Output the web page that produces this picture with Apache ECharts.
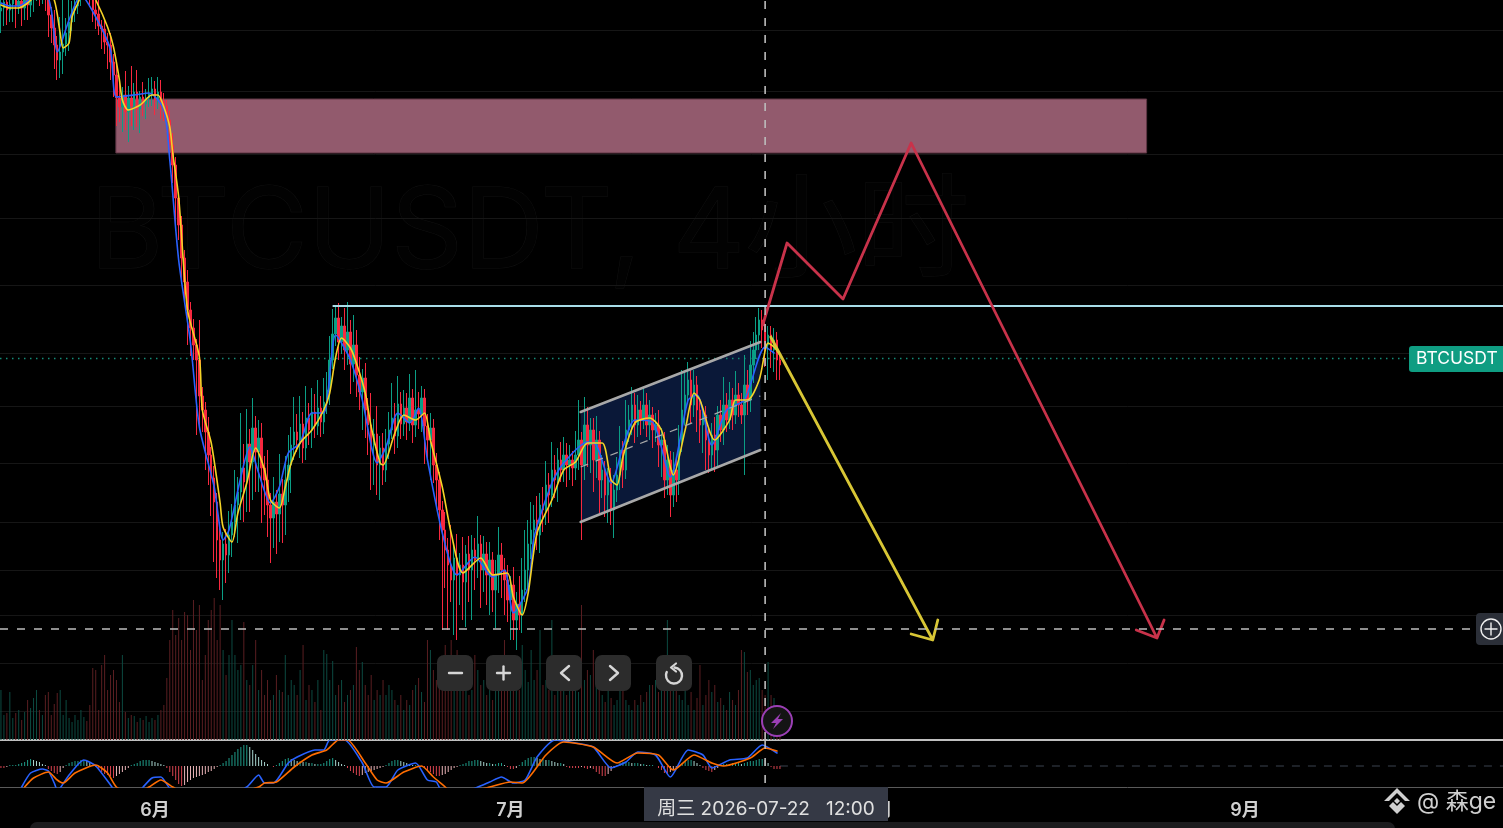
<!DOCTYPE html>
<html><head><meta charset="utf-8">
<style>html,body{margin:0;padding:0;background:#000;overflow:hidden}#c{width:1503px;height:828px}</style>
<script src="https://cdn.jsdelivr.net/npm/echarts@6/dist/echarts.min.js"></script>
</head><body><div id="c"></div>
<script>
// Price in hundreds of USD, one candle every 6 hours from candle 0.
const closes=[992,998,990,996,1002,994,999,992,1001,995,
1003,1008,1012,1006,1010,1004,985,972,955,940,
948,956,967,978,990,994,1003,1008,1012,1010,
1002,990,986,974,971,958,955,938,925,902,
893,905,888,902,894,908,891,903,896,902,
906,911,900,908,899,894,880,855,835,802,
775,742,718,690,672,655,640,604,590,568,
545,522,498,460,440,456,445,465,478,495,
508,532,518,556,538,572,548,562,532,520,
495,482,498,486,506,495,520,535,555,568,
560,576,552,582,570,588,574,592,578,598,
610,640,666,682,658,674,650,668,636,655,
625,608,622,590,575,555,566,535,552,530,
556,570,582,564,596,576,592,578,602,575,
590,586,602,574,560,572,535,520,490,470,
450,435,420,442,425,435,418,446,430,450,
440,456,430,446,425,440,410,425,445,430,
420,400,415,380,396,385,410,430,456,470,
480,465,495,490,515,505,530,520,540,530,
545,535,540,532,545,560,535,575,555,570,
540,560,520,530,505,520,490,510,525,550,
530,570,580,595,575,590,580,595,575,585,
570,575,555,560,520,540,505,530,520,560,
590,605,620,595,615,590,575,585,560,545,
565,550,585,570,595,580,600,585,605,595,
585,615,600,635,650,665,680,670,655,665,
650,660,640,635];
const upperWicks=[12,8,18,9,6,15,10,14,8,9,
9,8,9,12,8,9,12,8,18,9,
35,45,15,40,9,12,8,6,8,9,
12,8,9,14,6,10,9,12,8,12,
18,8,24,12,32,9,22,6,15,9,
16,12,8,15,12,8,6,9,12,8,
6,9,8,12,8,9,6,40,9,8,
15,8,12,9,18,12,15,24,18,35,
15,55,24,35,15,30,12,18,15,12,
30,12,25,12,40,15,24,30,18,35,
18,28,12,32,15,24,18,28,12,24,
18,24,25,12,15,9,18,30,12,30,
15,18,9,15,12,32,15,28,12,15,
15,18,35,15,28,12,18,15,24,9,
40,18,12,9,12,15,9,12,8,9,
18,12,40,15,24,12,28,9,18,15,
12,28,9,18,12,18,8,15,28,12,
12,15,9,18,12,28,32,40,24,28,
15,24,12,18,24,12,28,15,12,18,
18,12,15,9,24,40,8,28,18,12,
12,24,9,15,9,12,12,15,18,24,
9,30,15,18,12,15,9,18,12,15,
8,12,15,12,8,15,9,18,12,15,
40,24,18,12,15,9,12,8,9,12,
12,18,9,15,28,12,18,12,24,12,
12,30,15,24,18,18,12,10,15,9,
9,12,8,6];
const lowerWicks=[22,18,15,12,18,22,8,18,12,15,
12,15,9,12,10,15,22,15,24,20,
18,22,12,18,9,12,8,9,6,8,
9,12,15,9,20,12,24,18,22,28,
15,25,18,30,20,24,18,24,12,15,
9,12,15,9,18,15,12,15,18,28,
15,22,18,35,28,15,75,30,22,38,
30,38,60,38,30,40,28,18,22,15,
38,28,40,30,50,38,40,40,55,35,
32,45,30,40,28,38,30,22,28,15,
12,18,15,12,15,18,12,9,15,12,
12,15,9,12,18,12,20,15,30,18,
22,18,38,28,30,45,40,30,35,15,
12,15,9,18,12,15,12,18,9,18,
12,15,18,38,22,40,18,28,30,100,
38,65,22,55,65,30,38,45,32,50,
30,18,38,22,30,40,22,38,18,28,
35,22,40,20,30,15,18,12,18,15,
22,15,18,22,15,28,12,18,22,12,
12,22,15,18,12,15,75,15,22,28,
32,18,35,18,22,28,15,28,12,15,
18,9,12,15,18,12,15,9,12,15,
18,12,22,32,18,15,22,12,22,15,
12,15,9,18,12,22,18,28,30,18,
15,22,18,12,15,12,9,15,9,12,
9,60,15,12,18,9,15,18,22,35,
18,22,20,15];
const volumes=[50,25,27,48,22,27,30,20,28,40,
32,42,50,30,25,45,48,25,36,47,
50,25,40,22,18,25,20,30,23,19,
35,72,70,30,75,85,50,65,70,60,
38,85,28,22,25,24,18,22,20,24,
18,22,20,25,30,35,62,100,130,105,
122,100,128,125,90,140,110,135,60,85,
120,130,142,100,135,90,65,85,120,85,
70,75,118,60,55,75,100,50,70,45,
60,40,45,65,50,48,85,45,60,55,
45,70,95,40,55,50,38,60,30,90,
86,60,79,45,55,60,38,45,50,55,
93,70,78,55,45,65,40,50,45,60,
45,55,50,40,35,45,30,40,35,50,
55,62,48,38,100,90,70,60,65,75,
95,80,100,70,90,60,70,55,45,50,
85,70,55,60,45,50,40,55,62,70,
100,75,60,85,65,50,95,70,58,90,
60,70,110,55,60,50,120,45,55,62,
50,45,60,75,55,48,135,60,70,65,
90,55,60,45,38,50,42,35,40,55,
62,40,35,30,40,35,45,38,48,55,
55,60,48,75,50,120,60,85,50,45,
40,55,35,48,30,42,75,35,45,60,
48,55,38,42,35,30,48,40,35,50,
90,88,68,70,55,60,62,50,45,78,
45,42,20,15];
const macdHist=[-2,-2,-1,1,1,1,2,3,4,6,
7,6,5,4,2,1,-3,-5,-7,-8,
-6,-2,1,3,4,5,5,6,6,5,
3,1,-1,-4,-6,-8,-9,-10,-12,-10,
-8,-6,-4,-2,1,2,3,5,6,6,
6,5,4,3,2,1,-2,-6,-10,-14,
-18,-20,-19,-16,-14,-12,-11,-10,-9,-8,
-6,-5,-3,-1,1,3,5,8,11,14,
17,19,21,21,19,16,12,9,6,4,
2,0,-1,1,3,5,7,8,7,6,
5,5,4,4,3,3,2,2,2,3,
5,7,8,6,4,2,1,-2,-5,-7,
-9,-10,-9,-7,-6,-5,-4,-3,-2,-1,
1,3,5,6,6,5,4,3,2,1,
1,1,0,-2,-4,-6,-8,-10,-10,-9,
-8,-6,-4,-2,-1,1,2,3,5,5,
6,6,5,4,3,3,2,2,3,3,
1,-1,-3,-3,-2,1,4,6,8,9,
9,8,7,7,6,6,5,4,3,3,
2,-1,-2,-2,-2,-2,-1,-2,-3,-2,
-3,-6,-8,-10,-10,-8,-5,-2,1,3,
4,4,4,3,3,3,2,2,1,1,
1,0,-2,-4,-7,-8,-6,-4,-2,1,
3,5,6,6,5,3,1,-2,-4,-5,
-6,-4,-2,1,2,2,2,3,3,3,
2,3,4,5,5,6,7,7,6,3,
-1,-3,-3,-3];
// [candle number, value]
const maSlow=[[0,995],[3,992],[6,992],[9,997],[12,1005],[15,1010],[18,1000],[20,967],[21,952],[23,957],[24,983],[26,997],[29,1015],[32,1000],[36,973],[38,953],[40,920],[41,900],[43,890],[47,895],[51,905],[53,905],[55,893],[57,873],[58,847],[60,803],[63,690],[67,643],[68,590],[71,557],[74,497],[75,473],[78,458],[80,487],[83,517],[86,552],[89,530],[91,500],[94,492],[96,513],[98,537],[101,557],[105,570],[109,590],[111,607],[113,643],[115,662],[118,652],[120,637],[123,607],[125,573],[128,537],[129,535],[133,567],[136,585],[140,580],[143,587],[145,560],[149,513],[152,467],[156,427],[162,442],[166,425],[171,427],[173,403],[176,385],[178,407],[181,467],[186,500],[190,530],[194,538],[198,557],[203,557],[206,520],[208,515],[210,543],[214,577],[219,582],[223,570],[226,533],[227,525],[231,570],[234,607],[236,600],[241,560],[246,580],[248,600],[252,600],[256,620],[259,657],[261,653],[263,645]];
const maFast=[[0,997],[3,994],[6,994],[9,999],[12,1006],[15,1008],[17,990],[19,948],[23,980],[27,1005],[32,983],[37,950],[39,903],[45,905],[50,907],[55,890],[57,840],[60,740],[64,657],[67,573],[72,513],[75,460],[77,470],[81,523],[84,553],[87,527],[91,497],[94,513],[97,547],[101,557],[105,587],[109,587],[113,665],[118,640],[122,600],[127,537],[130,553],[134,587],[138,577],[141,592],[144,540],[149,467],[154,425],[160,443],[166,423],[170,430],[173,387],[178,413],[180,463],[186,517],[190,537],[198,558],[201,555],[206,517],[210,553],[214,580],[220,578],[226,523],[232,600],[235,605],[240,555],[245,590],[251,600],[258,653],[261,647]];
const macdDif=[[7,-21],[10,-7],[14,-3],[16,-5],[18,-17],[19,-24],[20,-22],[23,-9],[28,6],[32,0],[37,-19],[39,-27],[45,-31],[48,-21],[51,-12],[54,-11],[57,-22],[63,-31],[74,-34],[83,-21],[87,-9],[89,-17],[92,-17],[97,3],[100,9],[106,16],[109,16],[111,26],[116,26],[122,3],[126,-21],[130,-21],[134,-4],[140,3],[144,-14],[147,-16],[149,-27],[152,-31],[161,-21],[165,-16],[169,-11],[173,-17],[177,-14],[181,9],[187,26],[194,23],[200,19],[206,-2],[211,4],[215,14],[221,11],[226,-11],[232,16],[237,11],[240,-2],[246,6],[252,8],[257,21],[262,13]];
const macdDea=[[8,-21],[11,-12],[16,-6],[19,-14],[21,-17],[25,-7],[32,1],[36,-7],[39,-21],[45,-29],[50,-21],[54,-14],[58,-21],[63,-29],[74,-32],[87,-21],[89,-17],[93,-16],[99,-1],[105,11],[110,16],[114,26],[117,26],[123,3],[127,-14],[130,-17],[136,-6],[142,0],[146,-11],[150,-21],[153,-29],[165,-21],[172,-16],[176,-17],[184,11],[190,24],[200,19],[208,3],[215,13],[222,11],[227,-4],[234,11],[240,3],[244,0],[253,8],[258,18],[262,15]];
// Analyst drawings, [candle number, price]
const priceGridLevels=[970,909,846,782,715,647,594,537,478,430,385,337,289];
const resistanceZone=[[38.8,901],[386.8,847]];
const resistanceLine=[[112.2,694],[520,694]];
const lastPrice=641.5;
const crosshairPrice=371;
const channelCorners=[[195.7,588],[256.4,658],[256.4,550],[195.7,478]];
const channelMid=[[195.7,533],[256.4,604]];
const redPath=[[257.2,675],[265.4,757],[284.3,701],[307.3,857],[390.3,362],[383.3,370],[390.3,362],[392.7,380]];
const yellowPath=[[259.9,663],[314.6,360],[307.3,366],[314.6,360],[316.3,380]];
const monthStarts=[Date.UTC(2026,5,1),Date.UTC(2026,6,1),Date.UTC(2026,7,1),Date.UTC(2026,8,1)];
const crosshairTime=Date.UTC(2026,6,22,12);
const crosshairLabel='周三 2026-07-22   12:00';
const symbolName='BTCUSDT';
const watermark='BTCUSDT, 4小时';
const author='@ 森ge';

const T0=Date.UTC(2026,4,19), H6=6*3600e3, DAY=24*3600e3;
const tm=i=>T0+i*H6;
const axisMin=Date.UTC(2026,5,1)-13.08*DAY, axisMax=axisMin+126.86*DAY;
const FONT='Inter,"Noto Sans CJK SC","Noto Sans",sans-serif';
const opens=closes.map((c,i)=>i?closes[i-1]:c-3);
const candleData=closes.map((c,i)=>[tm(i),opens[i],c,Math.min(opens[i],c)-lowerWicks[i],Math.max(opens[i],c)+upperWicks[i]]);
const pts=a=>a.map(p=>[tm(p[0]),p[1]]);
function polyline(data,color,width,z,type,extra){return Object.assign({type:'line',data,symbol:'none',silent:true,animation:false,z:z,
  lineStyle:{color,width,type:type||'solid',cap:type?'butt':'round',join:'round'}},extra||{});}
const hist=(v,i)=>{const p=i?macdHist[i-1]:0;
  if(v>=0)return v>=p?'#1f9d8a':'#a9d6d0';return v<=p?'#d8434f':'#eab4b8';};

const series=[
 {type:'line',data:[],z:1,silent:true,markLine:{symbol:'none',silent:true,animation:false,label:{show:false},z:1,
   lineStyle:{color:'#161616',width:1,type:'solid'},data:priceGridLevels.map(v=>({yAxis:v}))}},
 {type:'line',data:[],z:2,silent:true,markArea:{silent:true,animation:false,z:2,
   itemStyle:{color:'#925a6d',borderColor:'#5f3645',borderWidth:1},
   data:[[{coord:[tm(resistanceZone[0][0]),resistanceZone[0][1]]},{coord:[tm(resistanceZone[1][0]),resistanceZone[1][1]]}]]}},
 {type:'custom',z:2,silent:true,data:[[tm(channelCorners[0][0]),channelCorners[0][1]]],encode:{x:0,y:1},
   renderItem:(p,api)=>({type:'polygon',shape:{points:channelCorners.map(c=>api.coord([tm(c[0]),c[1]]))},style:{fill:'#0a1838'}})},
 {type:'bar',xAxisIndex:1,yAxisIndex:1,z:3,barWidth:1,silent:true,
   data:volumes.map((v,i)=>({value:[tm(i),v],itemStyle:{color:closes[i]>=opens[i]?'#0c4a41':'#5a1e21'}}))},
 {type:'candlestick',z:4,barWidth:2,silent:true,data:candleData,
   itemStyle:{color:'#0b9e85',color0:'#f8283f',borderColor:'#0b9e85',borderColor0:'#f8283f',borderWidth:1}},
 polyline(pts(maFast),'#2962ff',1.6,5,null,{smooth:0.25}),
 polyline(pts(maSlow),'#f5d327',1.6,5,null,{smooth:0.25}),
 polyline(pts([channelCorners[0],channelCorners[1]]),'#a8a8a8',2.5,6),
 polyline(pts([channelCorners[3],channelCorners[2]]),'#a8a8a8',2.5,6),
 polyline(pts(channelMid),'#a8a8a8',1.3,6,[8,8]),
 polyline(pts(resistanceLine),'#a8dde8',1.8,6),
 polyline([[axisMin,lastPrice],[axisMax,lastPrice]],'#158c78',1.3,3,[1.5,4.5]),
 polyline(pts(redPath),'#c8324a',2.8,7),
 polyline(pts(yellowPath),'#d8c635',2.8,7),
 polyline([[axisMin,crosshairPrice],[axisMax,crosshairPrice]],'#bdbdbd',1.6,8,[8,9]),
 polyline([[crosshairTime,260],[crosshairTime,1000]],'#bdbdbd',1.6,8,[8,9]),
 polyline([[crosshairTime,25],[crosshairTime,-17]],'#bdbdbd',1.6,8,[8,9],{xAxisIndex:2,yAxisIndex:2}),
 polyline([[tm(263),0],[axisMax,0]],'#3a424e',1,2,[8,8],{xAxisIndex:2,yAxisIndex:2}),
 {type:'bar',xAxisIndex:2,yAxisIndex:2,z:3,barWidth:1,silent:true,
   data:macdHist.map((v,i)=>({value:[tm(i),v],itemStyle:{color:hist(v,i)}}))},
 polyline(pts(macdDif),'#2962ff',1.6,5,null,{xAxisIndex:2,yAxisIndex:2,smooth:0.2}),
 polyline(pts(macdDea),'#ff6d00',1.6,5,null,{xAxisIndex:2,yAxisIndex:2,smooth:0.2})
];

const btnY=655,btnS=36,btnX=[437,486,546,595,656];
const els=[];
const stroke=(c,w)=>({fill:null,stroke:c,lineWidth:w,lineCap:'round',lineJoin:'round'});
els.push({type:'text',x:90,y:178,z:0,style:{text:watermark,font:'400 112px '+FONT,fill:'#020202',stroke:'#111111',lineWidth:1}});
btnX.forEach(x=>els.push({type:'rect',z:20,shape:{x,y:btnY,width:btnS,height:btnS,r:7},style:{fill:'#2c2c2c'}}));
const ic='#d6d6d6';
els.push({type:'line',z:21,shape:{x1:449,y1:673,x2:462,y2:673},style:stroke(ic,2.4)});
els.push({type:'line',z:21,shape:{x1:497,y1:673,x2:510,y2:673},style:stroke(ic,2.4)});
els.push({type:'line',z:21,shape:{x1:503.5,y1:666.5,x2:503.5,y2:679.5},style:stroke(ic,2.4)});
els.push({type:'polyline',z:21,shape:{points:[[569,666],[561,673],[569,680]]},style:stroke(ic,2.4)});
els.push({type:'polyline',z:21,shape:{points:[[610,666],[618,673],[610,680]]},style:stroke(ic,2.4)});
els.push({type:'arc',z:21,shape:{cx:674,cy:675.5,r:8,startAngle:-1.5,endAngle:-2.7,clockwise:true},style:stroke(ic,2.4)});
els.push({type:'polyline',z:21,shape:{points:[[676,663.5],[671,667.5],[676,671.5]]},style:stroke(ic,2.2)});
els.push({type:'rect',z:20,shape:{x:1476,y:613,width:40,height:32,r:4},style:{fill:'#2b2f38'}});
els.push({type:'circle',z:21,shape:{cx:1491,cy:629,r:10},style:stroke('#f0f0f0',1.4)});
els.push({type:'line',z:21,shape:{x1:1485,y1:629,x2:1497,y2:629},style:stroke('#f0f0f0',1.4)});
els.push({type:'line',z:21,shape:{x1:1491,y1:623,x2:1491,y2:635},style:stroke('#f0f0f0',1.4)});
els.push({type:'rect',z:20,shape:{x:1409,y:346,width:110,height:26,r:3},style:{fill:'#0f9d82'}});
els.push({type:'text',z:21,x:1416,y:359,style:{text:symbolName,font:'400 17.5px '+FONT,fill:'#fff',verticalAlign:'middle'}});
els.push({type:'circle',z:21,shape:{cx:777,cy:721,r:15},style:{fill:'#141414',stroke:'#9b3fb5',lineWidth:2}});
els.push({type:'polygon',z:22,shape:{points:[[781,713],[771,723],[776,723],[773,729],[783,719],[778,719]]},style:{fill:'#9b3fb5'}});
els.push({type:'rect',z:20,shape:{x:644,y:787,width:244,height:34},style:{fill:'#353945'}});
els.push({type:'text',z:21,x:766,y:809,style:{text:crosshairLabel,font:'400 19px '+FONT,fill:'#e0e0e0',textAlign:'center',verticalAlign:'middle'}});
els.push({type:'rect',z:19,shape:{x:30,y:822,width:1365,height:14,r:7},style:{fill:'#1c1c1e'}});
els.push({type:'polygon',z:21,shape:{points:[[1397,788],[1410,801],[1405,801],[1397,793],[1389,801],[1384,801]]},style:{fill:'#cfcfcf'}});
els.push({type:'polygon',z:21,shape:{points:[[1397,814],[1389,806],[1393,802],[1397,806],[1401,802],[1405,806]]},style:{fill:'#cfcfcf'}});
els.push({type:'polygon',z:21,shape:{points:[[1397,798],[1400,801],[1397,804],[1394,801]]},style:{fill:'#cfcfcf'}});
els.push({type:'text',z:21,x:1417,y:802,style:{text:author,font:'400 23px '+FONT,fill:'#cfcfcf',verticalAlign:'middle'}});

const hiddenY=(g,min,max)=>({gridIndex:g,type:'value',min,max,show:false,scale:true,splitLine:{show:false}});
const xa=(g,o)=>Object.assign({gridIndex:g,type:'value',min:axisMin,max:axisMax,axisTick:{show:false},splitLine:{show:false},axisLabel:{show:false},axisLine:{show:false}},o||{});
const chart=echarts.init(document.getElementById('c'),null,{renderer:'canvas',width:1503,height:828});
chart.setOption({
 backgroundColor:'#000',animation:false,
 grid:[{left:0,right:0,top:0,height:740},{left:0,right:0,top:590,height:150},{left:0,right:0,top:741,height:46}],
 xAxis:[
  xa(0,{axisLine:{show:true,onZero:false,lineStyle:{color:'#fff',width:1.5}}}),
  xa(1),
  xa(2,{axisLine:{show:true,onZero:false,lineStyle:{color:'#5a5a5a',width:1}},
    axisLabel:{show:true,customValues:monthStarts,margin:15,color:'#d0d0d0',fontSize:18,fontWeight:600,fontFamily:FONT,
      formatter:v=>(new Date(v).getUTCMonth()+1)+'月'}})
 ],
 yAxis:[hiddenY(0,260,1000),hiddenY(1,0,150),hiddenY(2,-21,25)],
 series,
 graphic:{elements:els}
});
</script></body></html>
